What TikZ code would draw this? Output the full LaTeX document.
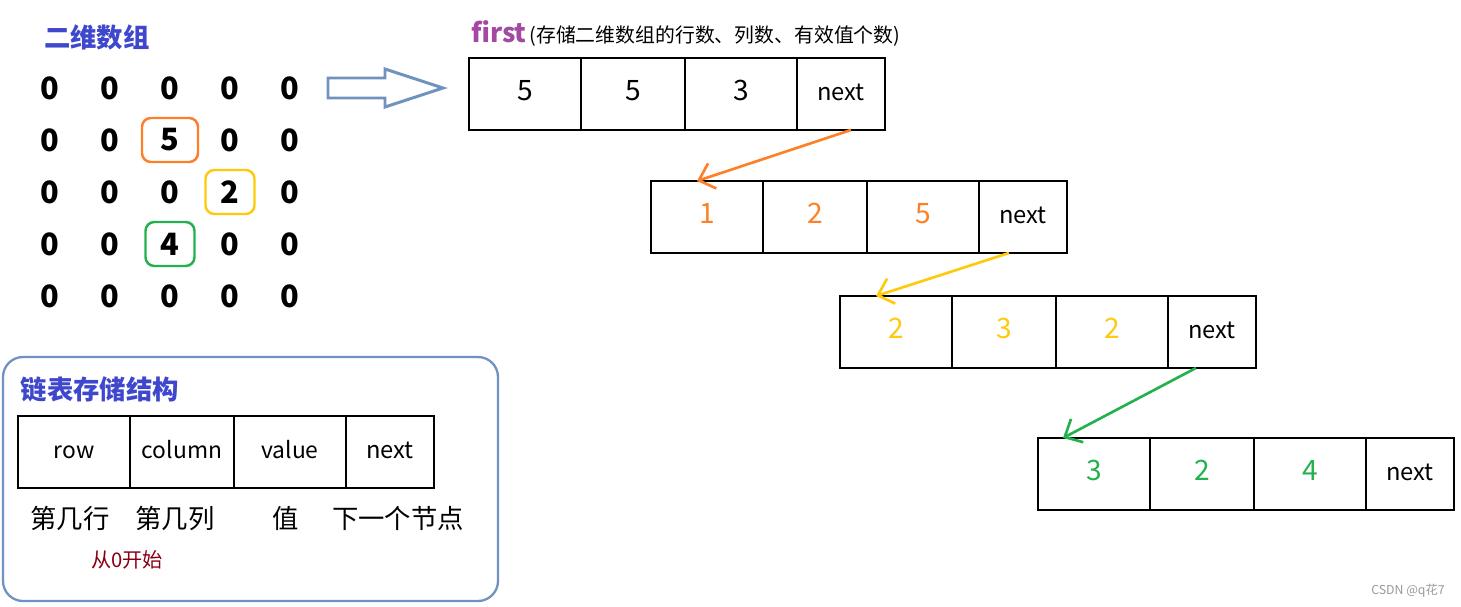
\documentclass[tikz,border=0pt]{standalone}
\usepackage{fontspec}
\setmainfont{Noto Sans CJK SC}
\usetikzlibrary{arrows.meta, positioning, calc}
\definecolor{paintorange}{RGB}{255,127,39}
\definecolor{paintyellow}{RGB}{255,201,14}
\definecolor{paintgreen}{RGB}{34,177,76}
\definecolor{paintindigo}{RGB}{63,72,204}
\definecolor{paintpurple}{RGB}{163,73,164}
\definecolor{paintsteel}{RGB}{112,146,190}
\definecolor{paintmaroon}{RGB}{136,0,21}

\begin{document}
\begin{tikzpicture}[
    x=0.02cm, y=-0.02cm,
    cell/.style={rectangle, draw=black, line width=1.6pt, minimum height=1.44cm,
                 inner sep=0pt, outer sep=0pt, text height=0.7em, text depth=0em,
                 font=\fontsize{16}{19}\selectfont},
    widecell/.style={cell, minimum width=2.24cm},
    midcell/.style={cell, minimum width=2.08cm},
    ptrcell/.style={cell, minimum width=1.76cm, font=\fontsize{13.5}{16}\selectfont},
    zero/.style={font=\bfseries\fontsize{17.5}{20}\selectfont},
    hl/.style={draw, line width=1.4pt, rounded corners=5pt, minimum width=0.98cm,
               minimum height=0.88cm},
    link/.style={-{Straight Barb[length=8pt, width=15pt]}, line width=1.5pt},
    heading/.style={font=\bfseries\fontsize{15}{18}\selectfont, text=paintindigo},
    note/.style={font=\fontsize{15}{18}\selectfont},
]
\useasboundingbox (0,0) rectangle (1461,606);

% ======================================================
% Left: the 5x5 sparse array, non-zero entries boxed
% ======================================================
\node[heading] (arrtitle) at (97,37) {二维数组};
\foreach \row [count=\r from 0] in {{0,0,0,0,0},{0,0,5,0,0},{0,0,0,2,0},{0,0,4,0,0},{0,0,0,0,0}} {
  \foreach \v [count=\c from 0] in \row {
    \node[zero] (m\r\c) at (50+\c*60, 88+\r*52) {\v};
  }
}
\node[hl, draw=paintorange, minimum width=1.12cm] (h5) at (m12) {};
\node[hl, draw=paintyellow] (h2) at (m23) {};
\node[hl, draw=paintgreen] (h4) at (m32) {};

% hollow arrow towards the list
\draw[paintsteel, line width=1.7pt, line join=miter]
  (328,78) -- (385,78) -- (385,69) -- (443,88) -- (385,107) -- (385,98) -- (328,98) -- cycle;

% ======================================================
% Right: head node + three value nodes
% ======================================================
\node[anchor=west] (firstlabel) at (465,33)
  {\textcolor{paintpurple}{\bfseries\fontsize{15}{18}\selectfont first}\,%
   \fontsize{11.3}{14}\selectfont(存储二维数组的行数、列数、有效值个数)};

% head: rows, cols, count
\node[widecell, anchor=north west] (f1) at (469,58) {5};
\node[midcell, right=0pt of f1] (f2) {5};
\node[widecell, right=0pt of f2] (f3) {3};
\node[ptrcell, right=0pt of f3] (f4) {next};

% (1,2) = 5
\node[widecell, anchor=north west, text=paintorange] (a1) at (651,181) {1};
\node[midcell, right=0pt of a1, text=paintorange] (a2) {2};
\node[widecell, right=0pt of a2, text=paintorange] (a3) {5};
\node[ptrcell, right=0pt of a3] (a4) {next};

% (2,3) = 2
\node[widecell, anchor=north west, text=paintyellow] (b1) at (840,296) {2};
\node[midcell, right=0pt of b1, text=paintyellow] (b2) {3};
\node[widecell, right=0pt of b2, text=paintyellow] (b3) {2};
\node[ptrcell, right=0pt of b3] (b4) {next};

% (3,2) = 4
\node[widecell, anchor=north west, text=paintgreen] (c1) at (1038,438) {3};
\node[midcell, right=0pt of c1, text=paintgreen] (c2) {2};
\node[widecell, right=0pt of c2, text=paintgreen] (c3) {4};
\node[ptrcell, right=0pt of c3] (c4) {next};

% next pointers
\draw[link, paintorange] ([xshift=0.2cm]f4.south) -- ([xshift=-0.2cm]a1.north);
\draw[link, paintyellow] ([xshift=-0.28cm]a4.south) -- ([xshift=-0.4cm]b1.north);
\draw[link, paintgreen] ([xshift=-0.32cm]b4.south) -- ([xshift=-0.62cm]c1.north);

% ======================================================
% Bottom left: legend of one list node
% ======================================================
\draw[paintsteel, line width=1.3pt, rounded corners=0.4cm] (3,357) rectangle (498,601);
\node[heading] (legtitle) at (100,389) {链表存储结构};

\node[widecell, anchor=north west, font=\fontsize{13}{16}\selectfont] (t1) at (18,416) {row};
\node[midcell, right=0pt of t1, font=\fontsize{13}{16}\selectfont] (t2) {column};
\node[widecell, right=0pt of t2, font=\fontsize{13}{16}\selectfont] (t3) {value};
\node[ptrcell, right=0pt of t3] (t4) {next};

\node[note] (lrow) at (70,518) {第几行};
\node[note] (lcol) at (175,518) {第几列};
\node[note] (lval) at (286,518) {值};
\node[note] (lnext) at (398,518) {下一个节点};
\node[font=\fontsize{11.5}{14}\selectfont, text=paintmaroon] (zerobase) at (127,560) {从0开始};

\node[font=\fontsize{7}{8}\selectfont, text=black!40] (mark) at (1408,591) {CSDN @q花7};

\end{tikzpicture}
\end{document}
